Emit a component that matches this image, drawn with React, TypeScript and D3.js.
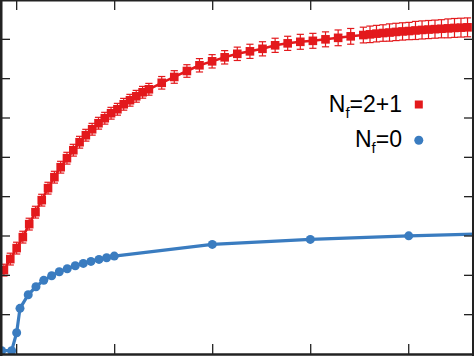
import React from "react";
import * as d3 from "d3";

const W = 474;
const H = 356;

// N_f = 2+1 (red squares with error bars)
const redX = [-0.13, -0.065, 0.0, 0.063, 0.128, 0.192, 0.256, 0.32, 0.385, 0.449, 0.513, 0.578, 0.642, 0.706, 0.77, 0.835, 0.899, 0.963, 1.028, 1.092, 1.156, 1.22, 1.285, 1.349,
  1.48, 1.608, 1.737, 1.865, 1.994, 2.122, 2.251, 2.38, 2.508, 2.637, 2.765, 2.894, 3.022, 3.151, 3.28, 3.408, 3.537,
  3.605, 3.671, 3.738, 3.804, 3.87, 3.937, 4.003, 4.069, 4.136, 4.202, 4.268, 4.334, 4.401, 4.467, 4.533, 4.6];
const redY = [2.133, 2.413, 2.692, 2.971, 3.302, 3.606, 3.911, 4.216, 4.495, 4.749, 4.978, 5.181, 5.384, 5.562, 5.714, 5.867, 5.994, 6.121, 6.222, 6.349, 6.451, 6.552, 6.654, 6.73,
  6.895, 7.043, 7.195, 7.34, 7.441, 7.543, 7.632, 7.695, 7.759, 7.848, 7.898, 7.937, 7.962, 8.0, 8.038, 8.076, 8.109,
  8.127, 8.145, 8.16, 8.173, 8.188, 8.201, 8.211, 8.226, 8.239, 8.249, 8.259, 8.269, 8.279, 8.29, 8.297, 8.305];
const redErr = [0.15, 0.15, 0.15, 0.15, 0.15, 0.15, 0.15, 0.15, 0.15, 0.15, 0.15, 0.15, 0.15, 0.15, 0.15, 0.15, 0.15, 0.15, 0.15, 0.15, 0.15, 0.15, 0.15, 0.15,
  0.16, 0.16, 0.16, 0.17, 0.17, 0.17, 0.17, 0.18, 0.18, 0.18, 0.18, 0.19, 0.19, 0.19, 0.2, 0.2, 0.2,
  0.21, 0.21, 0.21, 0.22, 0.22, 0.22, 0.22, 0.23, 0.23, 0.23, 0.23, 0.23, 0.24, 0.24, 0.24, 0.24];

// N_f = 0 (blue circles)
const blueX = [-0.153, -0.051, 0.0, 0.034, 0.118, 0.197, 0.276, 0.357, 0.435, 0.516, 0.598, 0.68, 0.758, 0.84, 0.918, 0.996, 1.996, 2.996, 4.0, 5.0];
const blueY = [0.084, 0.084, 0.541, 1.161, 1.506, 1.71, 1.872, 1.989, 2.09, 2.166, 2.243, 2.303, 2.354, 2.405, 2.446, 2.489, 2.786, 2.913, 3.004, 3.07];

const xTicks = [0, 1, 2, 3, 4];
const yTicks = [1, 2, 3, 4, 5, 6, 7, 8];

const legendLabels = [
  { main: "N", sub: "f", rest: "=2+1" },
  { main: "N", sub: "f", rest: "=0" },
];

const RED = "#e3191c";
const BLUE = "#3a7cc0";
const FRAME = "#222";

export default function App() {
  const x = d3.scaleLinear().domain([-0.17, 4.666]).range([0, W]);
  const y = d3.scaleLinear().domain([0, 9]).range([354, 0]);

  const red = redX.map((v, i) => ({ x: v, y: redY[i], e: redErr[i] }));
  const blue = blueX.map((v, i) => ({ x: v, y: blueY[i] }));

  const line = d3
    .line<{ x: number; y: number }>()
    .x((d) => x(d.x))
    .y((d) => y(d.y));

  const sq = 8.6;
  const cap = 3.6;

  return (
    <svg
      width={W}
      height={H}
      style={{ position: "fixed", left: 0, top: 0, background: "#fff" }}
      fontFamily="'Liberation Sans', Arial, sans-serif"
    >
      <defs>
        <clipPath id="plot">
          <rect x={0} y={0} width={W} height={355} />
        </clipPath>
      </defs>
      <rect x={0} y={0} width={W} height={H} fill="#fff" />
      <g clipPath="url(#plot)">
        {/* red series */}
        <path d={line(red) || ""} fill="none" stroke={RED} strokeWidth={2.5} />
        {red.map((d, i) => (
          <g key={"e" + i} stroke={RED} strokeWidth={1.2}>
            <line x1={x(d.x)} x2={x(d.x)} y1={y(d.y - d.e)} y2={y(d.y + d.e)} />
            <line x1={x(d.x) - cap} x2={x(d.x) + cap} y1={y(d.y - d.e)} y2={y(d.y - d.e)} />
            <line x1={x(d.x) - cap} x2={x(d.x) + cap} y1={y(d.y + d.e)} y2={y(d.y + d.e)} />
          </g>
        ))}
        {red.map((d, i) => (
          <rect key={"r" + i} x={x(d.x) - sq / 2} y={y(d.y) - sq / 2} width={sq} height={sq} fill={RED} />
        ))}
        {/* blue series */}
        <path d={line(blue) || ""} fill="none" stroke={BLUE} strokeWidth={3.2} />
        {blue.map((d, i) => (
          <circle key={"b" + i} cx={x(d.x)} cy={y(d.y)} r={4.5} fill={BLUE} />
        ))}
      </g>

      {/* ticks */}
      <g stroke={FRAME} strokeWidth={1.3}>
        {xTicks.map((t) => (
          <g key={"xt" + t}>
            <line x1={x(t)} x2={x(t)} y1={354} y2={344} />
            <line x1={x(t)} x2={x(t)} y1={0} y2={10} />
          </g>
        ))}
        {yTicks.map((t) => (
          <g key={"yt" + t}>
            <line x1={0} x2={10} y1={y(t)} y2={y(t)} />
            <line x1={W} x2={W - 10} y1={y(t)} y2={y(t)} />
          </g>
        ))}
      </g>

      {/* frame */}
      <line x1={1.25} x2={1.25} y1={0} y2={H} stroke={FRAME} strokeWidth={2.5} />
      <line x1={0} x2={W} y1={0.75} y2={0.75} stroke={FRAME} strokeWidth={1.5} />
      <line x1={0} x2={W} y1={354.5} y2={354.5} stroke={FRAME} strokeWidth={2.5} />
      <line x1={473} x2={473} y1={0} y2={H} stroke={FRAME} strokeWidth={2} />

      {/* legend */}
      {legendLabels.map((l, i) => (
        <g key={"lg" + i}>
          <text x={402} y={112 + i * 35} textAnchor="end" fontSize={23} fill="#000">
            <tspan>{l.main}</tspan>
            <tspan dy={5.5} fontSize={15}>{l.sub}</tspan>
            <tspan dy={-5.5}>{l.rest}</tspan>
          </text>
        </g>
      ))}
      <rect x={418.8 - 4} y={104.5 - 4} width={8} height={8} fill={RED} />
      <circle cx={418.8} cy={140.2} r={4.5} fill={BLUE} />
    </svg>
  );
}
